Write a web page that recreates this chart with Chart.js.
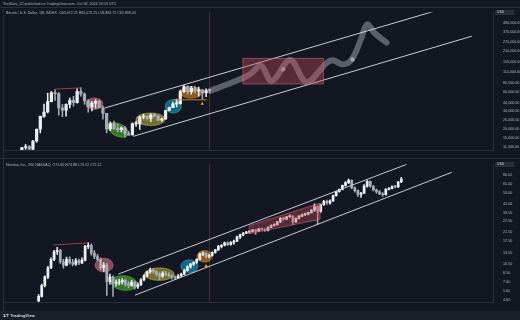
<!DOCTYPE html>
<html><head><meta charset="utf-8">
<script src="https://cdn.jsdelivr.net/npm/chart.js@4.4.1/dist/chart.umd.min.js"></script>
<style>
html,body{margin:0;padding:0;background:#131722;width:520px;height:320px;overflow:hidden;font-family:"Liberation Sans",Arial,sans-serif;}
.txt{position:absolute;white-space:nowrap;color:#b2b5be;}
#hdr{left:3px;top:1.5px;font-size:3.7px;}
.ttl{left:6px;font-size:3.6px;}
.usd{position:absolute;left:495px;width:19px;height:5px;background:#2a2e39;color:#d1d4dc;font-size:3.4px;line-height:5px;text-indent:2px;border-radius:1px;}
canvas{position:absolute;left:0;}
.hl{position:absolute;left:0;width:520px;height:1px;background:#2a2e39;}
.vl{position:absolute;width:1px;background:#2a2e39;}
#foot{position:absolute;left:0;top:311px;width:520px;height:9px;background:#1a1e29;}
#logo{left:3px;top:312.5px;font-size:4.2px;font-weight:bold;color:#d1d4dc;}
</style></head>
<body>
<div class="txt" id="hdr">TechDev_52 published on TradingView.com, Oct 08, 2024 19:53 UTC</div>
<div class="hl" style="top:7px"></div>
<div class="hl" style="top:158px"></div>
<div class="vl" style="left:3px;top:7px;height:304px"></div>
<canvas id="c1" width="520" height="150" style="top:8px"></canvas>
<canvas id="c2" width="520" height="150" style="top:160px"></canvas>
<div class="txt ttl" style="top:11px">Bitcoin / U.S. Dollar, 1M, INDEX&nbsp; O63,072.25 H65,072.25 L58,884.72 C62,898.44</div>
<div class="txt ttl" style="top:163px">Nasdaq, Inc., 2W, NASDAQ&nbsp; O71.60 H74.88 L70.12 C72.12</div>
<div class="usd" style="top:10px">USD</div>
<div class="usd" style="top:162px">USD</div>
<div id="foot"></div>
<div class="txt" id="logo">𝟭𝟳 TradingView</div>
<script>
// ---------- Bitcoin monthly ----------
const btcMonths = ['2020-06','2020-07','2020-08','2020-09','2020-10','2020-11','2020-12',
 '2021-01','2021-02','2021-03','2021-04','2021-05','2021-06','2021-07','2021-08','2021-09','2021-10','2021-11','2021-12',
 '2022-01','2022-02','2022-03','2022-04','2022-05','2022-06','2022-07','2022-08','2022-09','2022-10','2022-11','2022-12',
 '2023-01','2023-02','2023-03','2023-04','2023-05','2023-06','2023-07','2023-08','2023-09','2023-10','2023-11','2023-12',
 '2024-01','2024-02','2024-03','2024-04','2024-05','2024-06','2024-07','2024-08','2024-09','2024-10'];
const btcOpen = [9450,9140,11350,11650,10780,13800,19700,
 29000,33100,45200,58800,57700,37300,35000,41500,47100,43800,61300,57000,
 46200,38500,43200,45500,37700,31800,19900,23300,20050,19430,20500,17170,
 16540,23140,23150,28480,29250,27200,30480,29230,25940,26970,34660,37720,
 42280,42580,61130,71290,60640,67490,62680,64620,58970,63072];
const btcHigh = [10380,11450,12470,12070,14100,19900,29300,
 41950,58350,61800,64900,59600,41300,42200,50500,52900,67000,69000,59100,
 48000,45800,48200,47400,40000,31900,24700,25200,22800,21100,21500,18400,
 23950,25250,29200,31000,29800,31400,31800,30200,27500,35200,38450,44700,
 48970,64000,73800,72700,71950,71950,70000,65100,66500,65072];
const btcLow = [8900,8970,10700,9880,10370,13200,17600,
 28100,32300,44900,47000,30000,28800,29300,37300,39600,43300,53300,42000,
 32900,34300,37200,37600,26700,17600,18800,19600,18150,18200,15500,16300,
 16500,21400,19600,26950,25800,24800,28850,25300,24900,26550,34100,37600,
 38500,41900,59300,56500,56550,58400,53500,49000,52550,58884];
const btcClose = [9140,11350,11650,10780,13800,19700,29000,
 33100,45200,58800,57700,37300,35000,41500,47100,43800,61300,57000,46200,
 38500,43200,45500,37700,31800,19900,23300,20050,19430,20500,17170,16540,
 23140,23150,28480,29250,27200,30480,29230,25940,26970,34660,37720,42280,
 42580,61130,71290,60640,67490,62680,64620,58970,63330,62898];
const btcYearTicks = [2021,2022,2023,2024,2025,2026,2027,2028,2029,2030,2031];
const btcPriceTicks = [11400,15000,20000,26000,34000,44000,60000,80000,110000,150000,210000,270000,370000,490000];
// projection path drawn on the chart
const btcPathX = [2024.76,2025.28,2025.66,2025.91,2026.15,2026.57,2026.94,2027.40,2027.54,2027.76,2027.96,2028.15,2028.31,2028.49,2028.75];
const btcPathY = [62700,81600,103000,134000,84000,158000,81600,146000,157000,139000,161000,276000,462000,352000,268000];
const btcPathDotsX = [2026.41,2027.98];
const btcPathDotsY = [120000,161000];
// channel (two parallel lines)
const btcChanUpX = [2022.38,2029.81], btcChanUpY = [37400,684000];
const btcChanLoX = [2023.02,2030.68], btcChanLoY = [15900,325000];
const btcPeakLineX = [2021.25,2021.84], btcPeakLineY = [65900,68500];
const btcOrangeLineX = [2023.93,2024.67], btcOrangeLineY = [47800,47800];
const btcMarkerX = [2024.58], btcMarkerY = [42500];
const btcNow = 2024.74;
// zones [x from, x to, price top, price bottom]
const btcZones = [[2021.95,2022.33,50600,35700],[2022.43,2022.93,23300,15950],[2023.08,2023.74,32200,22000],[2023.74,2024.11,48200,32000],[2024.08,2024.57,71100,50100]];
const btcZoneTilt = [0,25,0,0,0];
const btcBox = [2025.5,2027.32,167000,76900];

// ---------- Nasdaq Inc. (two-month candles as displayed) ----------
const ndaqPeriods = ['2005-03','2005-05','2005-07','2005-09','2005-11',
 '2006-01','2006-03','2006-05','2006-07','2006-09','2006-11',
 '2007-01','2007-03','2007-05','2007-07','2007-09','2007-11',
 '2008-01','2008-03','2008-05','2008-07','2008-09','2008-11',
 '2009-01','2009-03','2009-05','2009-07','2009-09','2009-11',
 '2010-01','2010-03','2010-05','2010-07','2010-09','2010-11',
 '2011-01','2011-03','2011-05','2011-07','2011-09','2011-11',
 '2012-01','2012-03','2012-05','2012-07','2012-09','2012-11',
 '2013-01','2013-03','2013-05','2013-07','2013-09','2013-11',
 '2014-01','2014-03','2014-05','2014-07','2014-09','2014-11',
 '2015-01','2015-03','2015-05','2015-07','2015-09','2015-11',
 '2016-01','2016-03','2016-05','2016-07','2016-09','2016-11',
 '2017-01','2017-03','2017-05','2017-07','2017-09','2017-11',
 '2018-01','2018-03','2018-05','2018-07','2018-09','2018-11',
 '2019-01','2019-03','2019-05','2019-07','2019-09','2019-11',
 '2020-01','2020-03','2020-05','2020-07','2020-09','2020-11',
 '2021-01','2021-03','2021-05','2021-07','2021-09','2021-11',
 '2022-01','2022-03','2022-05','2022-07','2022-09','2022-11',
 '2023-01','2023-03','2023-05','2023-07','2023-09','2023-11',
 '2024-01','2024-03','2024-05','2024-07','2024-09'];
const ndaqOpen = [4.5,5.0,6.4,7.8,9.6,
 11.6,13.8,14.2,11.0,10.2,11.6, 10.8,10.4,11.3,10.7,11.4,15.6, 15.9,13.4,12.4,11.6,9.6,10.2,
 7.0,7.8,6.7,6.8,7.0,7.2, 6.6,6.4,6.9,6.2,6.5,7.3, 8.0,8.7,9.1,8.8,8.3,7.9, 8.5,8.2,8.0,7.8,7.6,8.0,
 8.3,9.0,9.8,10.4,10.8,11.6, 13.1,13.3,12.4,12.7,13.6,14.4, 15.6,16.0,16.9,16.2,17.1,17.6,
 19.4,20.3,21.1,21.6,21.9,22.6, 22.0,23.1,23.0,22.4,24.1,25.1, 25.6,27.2,29.6,29.0,30.6,31.1,
 27.3,29.6,31.1,32.1,32.6,33.6, 35.6,38.5,34.5,40.2,43.5,42.0, 44.0,49.5,54.5,57.0,62.5,66.5,
 70.0,59.0,55.5,51.0,52.5,61.5, 68.5,61.0,56.5,54.0,51.5,50.5, 57.0,58.5,61.0,60.5,67.5];
const ndaqHigh = [5.2,6.6,8.0,9.9,12.0,
 14.3,15.3,14.6,11.6,12.2,12.3, 11.6,11.8,11.7,12.0,16.0,17.0, 16.5,14.2,13.0,12.0,10.8,10.6,
 8.3,8.0,7.3,7.4,7.5,7.4, 7.0,7.2,7.1,6.8,7.5,8.2, 8.9,9.5,9.4,9.0,8.6,8.8, 8.9,8.6,8.2,8.0,8.2,8.5,
 9.3,10.0,10.6,11.0,11.8,13.4, 13.8,13.6,13.0,13.8,14.6,16.0, 16.3,17.2,17.3,17.4,18.0,19.7,
 20.6,21.4,22.0,22.3,23.0,23.0, 23.5,23.6,23.4,24.4,25.5,26.0, 27.6,30.0,30.4,31.0,32.0,31.6,
 29.9,31.4,32.6,33.2,34.0,36.0, 41.0,39.5,40.8,44.5,44.8,44.9, 50.0,55.0,57.5,63.0,68.0,72.0,
 71.0,60.5,56.5,53.5,63.5,69.8, 69.5,62.5,57.5,55.5,53.0,58.0, 59.5,61.8,62.5,68.5,74.9];
const ndaqLow = [4.3,4.9,6.2,7.5,9.4,
 11.3,13.0,10.6,9.5,10.0,10.4, 10.0,10.1,10.3,10.5,11.2,14.8, 12.8,11.8,11.2,9.2,8.8,5.1,
 6.6,5.0,6.3,6.5,6.6,6.3, 6.1,6.3,5.9,6.0,6.4,7.1, 7.8,8.5,8.5,7.9,7.3,7.7, 8.0,7.8,7.4,7.3,7.5,7.8,
 8.2,8.9,9.5,10.1,10.6,11.4, 12.6,11.9,12.0,12.5,13.4,14.2, 15.1,15.8,15.9,16.0,16.4,17.4,
 18.6,19.8,20.8,21.0,21.5,20.5, 21.8,22.4,21.9,22.2,23.8,24.8, 25.3,26.8,28.2,28.8,30.2,25.5,
 26.8,29.2,30.6,31.4,32.0,33.2, 34.5,25.5,33.8,39.6,40.5,40.8, 43.5,48.8,53.5,56.5,61.5,65.0,
 58.0,53.5,48.5,47.5,52.0,60.0, 60.0,55.0,52.5,50.5,49.0,50.0, 56.5,57.8,59.0,59.8,66.5];
const ndaqClose = [5.0,6.4,7.8,9.6,11.6,
 13.8,14.2,11.0,10.2,11.6,10.8, 10.4,11.3,10.7,11.4,15.6,15.9, 13.4,12.4,11.6,9.6,10.2,7.0,
 7.8,6.7,6.8,7.0,7.2,6.6, 6.4,6.9,6.2,6.5,7.3,8.0, 8.7,9.1,8.8,8.3,7.9,8.5, 8.2,8.0,7.8,7.6,8.0,8.3,
 9.0,9.8,10.4,10.8,11.6,13.1, 13.3,12.4,12.7,13.6,14.4,15.6, 16.0,16.9,16.2,17.1,17.6,19.4,
 20.3,21.1,21.6,21.9,22.6,22.0, 23.1,23.0,22.4,24.1,25.1,25.6, 27.2,29.6,29.0,30.6,31.1,27.3,
 29.6,31.1,32.1,32.6,33.6,35.6, 38.5,34.5,40.2,43.5,42.0,44.0, 49.5,54.5,57.0,62.5,66.5,70.0,
 59.0,55.5,51.0,52.5,61.5,68.5, 61.0,56.5,54.0,51.5,50.5,57.0, 58.5,61.0,60.5,67.5,72.1];
const ndaqYearTicks = [2005,2007,2009,2011,2013,2015,2017,2019,2021,2023,2025,2027,2029];
const ndaqPriceTicks = [4.6,5.6,7.0,8.5,10.5,13.5,17.5,21.5,27.5,33.5,41,53,65,80];
const ndaqChanUpX = [2009.45,2024.96], ndaqChanUpY = [8.3,101];
const ndaqChanLoX = [2010.35,2027.38], ndaqChanLoY = [5.14,84.2];
const ndaqPeakLineX = [2005.96,2007.84], ndaqPeakLineY = [16.1,16.9];
const ndaqMarkerX = [2014.17], ndaqMarkerY = [9.97];
const ndaqNow = 2014.34;
const ndaqZones = [[2008.2,2009.17,11.9,8.7],[2009.06,2010.46,8.0,5.74],[2010.85,2012.46,9.57,7.19],[2012.81,2013.73,11.5,8.6],[2013.69,2014.5,14.2,10.9]];
const ndaqZoneTilt = [0,6,0,0,0];
const ndaqWedge = [[2016.49,25.0],[2020.30,41.8],[2020.30,28.9],[2016.49,20.8]];

// ---------- styles ----------
const BG='#131722', AXIS='#2a2e39', TXT='#b2b5be';
const UP='#eceef2', DOWN='#a9acb5';
const zoneFill = ['rgba(214,110,128,0.6)','rgba(70,160,50,0.7)','rgba(180,172,60,0.6)','rgba(20,150,180,0.65)','rgba(205,125,35,0.65)'];
const zoneStroke = ['rgba(230,140,150,0.8)','rgba(100,190,70,0.9)','rgba(210,200,90,0.8)','rgba(60,180,210,0.8)','rgba(235,155,60,0.8)'];
Chart.defaults.font.family = '"Liberation Sans", Arial, sans-serif';
Chart.defaults.font.size = 3.7;
Chart.defaults.color = TXT;

const toYear = s => { const p = s.split('-').map(Number); return p[0] + (p[1]-1)/12; };
const pts = (xs, ys) => xs.map((x,i)=>({x:x, y:ys[i]}));

function candles(dates, o, h, l, c, w){
  const col = dates.map((d,i)=> c[i]>=o[i] ? UP : DOWN);
  return [
    {type:'bar', data:dates.map((d,i)=>({x:d, y:[l[i],h[i]]})), backgroundColor:col, barThickness:0.9, grouped:false, order:6},
    {type:'bar', data:dates.map((d,i)=>({x:d, y:[Math.min(o[i],c[i]),Math.max(o[i],c[i])]})), backgroundColor:col, barThickness:w, minBarLength:1, grouped:false, order:5}
  ];
}
function seg(xs, ys, color, width, order){
  return {type:'line', data:pts(xs,ys), borderColor:color, borderWidth:width, pointRadius:0, fill:false, order:order};
}

const annot = {
  id:'annot',
  beforeDatasetsDraw(chart, args, opts){
    const {ctx, chartArea:a, scales:{x,y}} = chart;
    ctx.save();
    ctx.beginPath(); ctx.rect(a.left,a.top,a.right-a.left,a.bottom-a.top); ctx.clip();
    if (opts.now!==undefined){
      const px = Math.round(x.getPixelForValue(opts.now))+0.5;
      ctx.strokeStyle='rgba(120,92,55,0.55)'; ctx.lineWidth=0.8;
      ctx.beginPath(); ctx.moveTo(px,a.top); ctx.lineTo(px,a.bottom); ctx.stroke();
    }
    (opts.zones||[]).forEach((z,i)=>{
      const x0=x.getPixelForValue(z[0]), x1=x.getPixelForValue(z[1]);
      const y0=y.getPixelForValue(z[2]), y1=y.getPixelForValue(z[3]);
      ctx.beginPath();
      ctx.ellipse((x0+x1)/2,(y0+y1)/2,Math.abs(x1-x0)/2,Math.abs(y1-y0)/2,(opts.tilt[i]||0)*Math.PI/180,0,Math.PI*2);
      ctx.fillStyle=zoneFill[i]; ctx.fill();
      ctx.lineWidth=0.6; ctx.strokeStyle=zoneStroke[i]; ctx.stroke();
    });
    ctx.restore();
  },
  afterDatasetsDraw(chart, args, opts){
    const {ctx, chartArea:a, scales:{x,y}} = chart;
    ctx.save();
    ctx.beginPath(); ctx.rect(a.left,a.top,a.right-a.left,a.bottom-a.top); ctx.clip();
    if (opts.box){
      const b=opts.box;
      const x0=x.getPixelForValue(b[0]), x1=x.getPixelForValue(b[1]);
      const y0=y.getPixelForValue(b[2]), y1=y.getPixelForValue(b[3]);
      ctx.fillStyle='rgba(200,80,95,0.38)'; ctx.fillRect(x0,y0,x1-x0,y1-y0);
      ctx.strokeStyle='rgba(215,95,110,0.75)'; ctx.lineWidth=0.8; ctx.strokeRect(x0,y0,x1-x0,y1-y0);
    }
    if (opts.poly){
      ctx.beginPath();
      opts.poly.forEach((p,i)=>{ const px=x.getPixelForValue(p[0]), py=y.getPixelForValue(p[1]); i?ctx.lineTo(px,py):ctx.moveTo(px,py); });
      ctx.closePath();
      ctx.fillStyle='rgba(200,80,95,0.38)'; ctx.fill();
      ctx.strokeStyle='rgba(215,95,110,0.75)'; ctx.lineWidth=0.8; ctx.stroke();
    }
    ctx.restore();
  }
};

function makeChart(id, cfg){
  return new Chart(document.getElementById(id), {
    type:'bar',
    data:{datasets:cfg.datasets},
    options:{
      responsive:false, animation:false, devicePixelRatio:1,
      layout:{padding:{left:4,right:0,top:0,bottom:0}},
      plugins:{legend:{display:false}, tooltip:{enabled:false}, annot:cfg.annot},
      scales:{
        x:{type:'linear', min:cfg.xmin, max:cfg.xmax, offset:false,
           grid:{display:false}, border:{display:true,color:AXIS},
           afterBuildTicks:s=>{ s.ticks = cfg.xticks.map(v=>({value:v})); },
           afterFit:s=>{ s.height = 8; },
           ticks:{autoSkip:false, maxRotation:0, padding:1.5, color:TXT, callback:v=>String(v)}},
        y:{type:'logarithmic', position:'right', min:cfg.ymin, max:cfg.ymax,
           grid:{display:false}, border:{display:true,color:AXIS},
           afterBuildTicks:s=>{ s.ticks = cfg.yticks.map(v=>({value:v})); },
           afterFit:s=>{ s.width = 27; },
           ticks:{autoSkip:false, padding:2, color:TXT, callback:cfg.yfmt}}
      }
    },
    plugins:[annot]
  });
}

// ---------- top chart ----------
const btcX = btcMonths.map(toYear);
makeChart('c1', {
  xmin:2020.095, xmax:2031.158, ymin:10535, ymax:669000,
  xticks:btcYearTicks, yticks:btcPriceTicks,
  yfmt:v=>Number(v).toLocaleString('en-US',{minimumFractionDigits:2, maximumFractionDigits:2}),
  annot:{now:btcNow, zones:btcZones, tilt:btcZoneTilt, box:btcBox},
  datasets:[
    {type:'line', data:pts(btcPathX,btcPathY), borderColor:'rgba(118,122,134,0.75)', borderWidth:6, tension:0.35, pointRadius:0, borderCapStyle:'round', borderJoinStyle:'round', fill:false, order:8},
    {type:'line', data:pts(btcPathDotsX,btcPathDotsY), showLine:false, pointRadius:2.2, pointBackgroundColor:'rgba(170,173,182,0.9)', pointBorderWidth:0, order:7},
    seg(btcChanUpX, btcChanUpY, '#c9ccd4', 1, 3),
    seg(btcChanLoX, btcChanLoY, '#c9ccd4', 1, 3),
    seg(btcPeakLineX, btcPeakLineY, '#a8434f', 0.9, 3),
    seg(btcOrangeLineX, btcOrangeLineY, '#d98a2b', 0.9, 3),
    {type:'line', data:pts(btcMarkerX,btcMarkerY), showLine:false, pointStyle:'triangle', pointRadius:2, pointBackgroundColor:'#f5a623', pointBorderWidth:0, order:2},
    ...candles(btcX, btcOpen, btcHigh, btcLow, btcClose, 2.6)
  ]
});

// ---------- bottom chart ----------
const ndaqX = ndaqPeriods.map(toYear);
makeChart('c2', {
  xmin:2003.306, xmax:2029.597, ymin:4.40, ymax:101.2,
  xticks:ndaqYearTicks, yticks:ndaqPriceTicks,
  yfmt:v=>Number(v).toFixed(2),
  annot:{now:ndaqNow, zones:ndaqZones, tilt:ndaqZoneTilt, poly:ndaqWedge},
  datasets:[
    seg(ndaqChanUpX, ndaqChanUpY, '#c9ccd4', 1, 3),
    seg(ndaqChanLoX, ndaqChanLoY, '#c9ccd4', 1, 3),
    seg(ndaqPeakLineX, ndaqPeakLineY, '#a8434f', 0.9, 3),
    {type:'line', data:pts(ndaqMarkerX,ndaqMarkerY), showLine:false, pointStyle:'triangle', pointRadius:2, pointBackgroundColor:'#f5a623', pointBorderWidth:0, order:2},
    ...candles(ndaqX, ndaqOpen, ndaqHigh, ndaqLow, ndaqClose, 2.1)
  ]
});
</script>
</body></html>
